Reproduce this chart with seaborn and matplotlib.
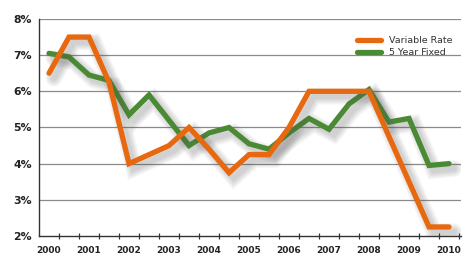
import matplotlib
matplotlib.use("Agg")
import matplotlib.pyplot as plt
import matplotlib.patheffects as pe
from matplotlib.lines import Line2D
import numpy as np
import pandas as pd
import seaborn as sns

years = [2000, 2000.5, 2001, 2001.5, 2002, 2002.5, 2003, 2003.5, 2004, 2004.5,
         2005, 2005.5, 2006, 2006.5, 2007, 2007.5, 2008, 2008.5, 2009, 2009.5, 2010]
variable_rate = [6.5, 7.5, 7.5, 6.25, 4.0, 4.25, 4.5, 5.0, 4.4, 3.75,
                 4.25, 4.25, 5.0, 6.0, 6.0, 6.0, 6.0, 4.75, 3.5, 2.25, 2.25]
five_year_fixed = [7.05, 6.95, 6.45, 6.3, 5.35, 5.9, 5.2, 4.5, 4.85, 5.0,
                   4.55, 4.4, 4.85, 5.25, 4.95, 5.65, 6.05, 5.15, 5.25, 3.95, 4.0]
series_names = ["Variable Rate", "5 Year Fixed"]
year_labels = [str(y) for y in range(2000, 2011)]
pct_labels = ["2%", "3%", "4%", "5%", "6%", "7%", "8%"]

df = pd.DataFrame({
    "year": years * 2,
    "rate": variable_rate + five_year_fixed,
    "series": [series_names[0]] * len(years) + [series_names[1]] * len(years),
})

sns.set_theme(style="white")
plt.rcParams["font.family"] = ["DejaVu Sans"]

fig = plt.figure(figsize=(4.74, 2.63), dpi=100)
ax = fig.add_axes([0.0823, 0.1027, 0.8903, 0.8251])

for y in range(3, 9):
    ax.axhline(y, color="#8a8a8a", lw=0.9, zorder=0)

palette = {series_names[0]: "#e8680f", series_names[1]: "#4a8a34"}
sns.lineplot(data=df, x="year", y="rate", hue="series", hue_order=series_names[::-1],
             palette=palette, lw=3.8, ax=ax, legend=False, sort=False)

# soft drop shadow under both lines
shadow = [pe.SimpleLineShadow(offset=(3.5, -3.5), shadow_color="#555555", alpha=0.06, linewidth=w)
          for w in (12, 10, 8, 6, 4)]
for line in ax.get_lines()[-2:]:
    line.set_solid_joinstyle("miter")
    line.set_path_effects(shadow + [pe.Normal()])

ax.set_xlim(1999.75, 2010.3)
ax.set_ylim(2, 8)
ax.set_xticks(range(2000, 2011))
ax.set_xticklabels(year_labels, fontsize=6.5, fontweight="bold", color="#222222")
ax.set_xticks(np.arange(2000.25, 2010.3, 0.5), minor=True)
ax.tick_params(axis="x", which="major", length=0, pad=7)
ax.tick_params(axis="x", which="minor", direction="inout", length=5, width=0.9,
               color="#333333", bottom=True)
ax.set_yticks(range(2, 9))
ax.set_yticklabels(pct_labels, fontsize=7.8, fontweight="bold", color="#222222")
ax.tick_params(axis="y", length=0, pad=5)
ax.set_xlabel("")
ax.set_ylabel("")

for s in ["top", "right"]:
    ax.spines[s].set_visible(False)
for s in ["left", "bottom"]:
    ax.spines[s].set_color("#333333")
    ax.spines[s].set_linewidth(1.0)

handles = [Line2D([], [], color=palette[n], lw=3.8, solid_capstyle="round") for n in series_names]
leg = ax.legend(handles, series_names, loc="upper right", bbox_to_anchor=(1.0, 0.96),
                frameon=False, fontsize=6.8, handlelength=2.6, handletextpad=0.8,
                labelspacing=0.3)
for t in leg.get_texts():
    t.set_color("#333333")

fig.savefig("out.png", dpi=100, facecolor="white")
